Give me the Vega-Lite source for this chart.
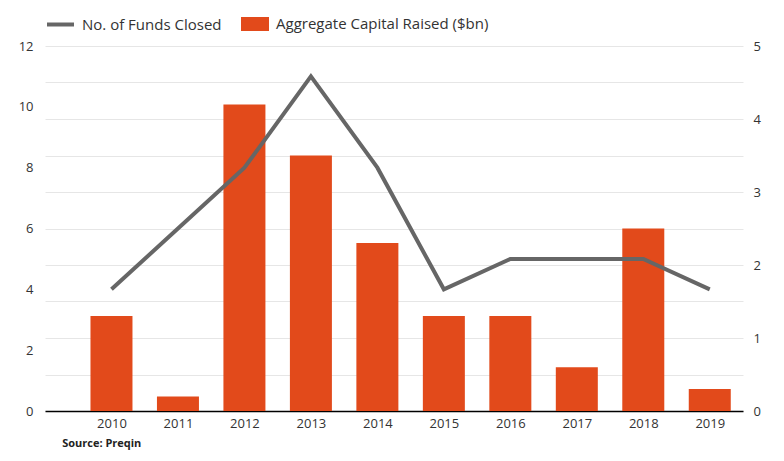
{
  "$schema": "https://vega.github.io/schema/vega-lite/v6.json",
  "width": 698,
  "height": 365,
  "autosize": "none",
  "padding": {"left": 45, "top": 46, "right": 41, "bottom": 50},
  "background": "white",
  "config": {
    "view": {"stroke": null},
    "font": "Open Sans",
    "axis": {"labelFont": "Open Sans", "labelFontSize": 13, "labelColor": "#333333", "gridColor": "#e6e6e6", "gridWidth": 1, "ticks": false, "domain": false, "title": null}
  },
  "title": {"text": "Source: Preqin", "orient": "bottom", "anchor": "start", "dx": 44, "offset": 8, "fontSize": 11, "fontWeight": "bold", "color": "#222222", "font": "Open Sans"},
  "data": {"values": [
    {"year": 2010, "funds": 4, "capital": 1.3},
    {"year": 2011, "funds": 6, "capital": 0.2},
    {"year": 2012, "funds": 8, "capital": 4.2},
    {"year": 2013, "funds": 11, "capital": 3.5},
    {"year": 2014, "funds": 8, "capital": 2.3},
    {"year": 2015, "funds": 4, "capital": 1.3},
    {"year": 2016, "funds": 5, "capital": 1.3},
    {"year": 2017, "funds": 5, "capital": 0.6},
    {"year": 2018, "funds": 5, "capital": 2.5},
    {"year": 2019, "funds": 4, "capital": 0.3}
  ]},
  "encoding": {
    "x": {"field": "year", "type": "quantitative", "scale": {"domain": [2009, 2019.5], "nice": false, "zero": false, "padding": 0},
      "axis": {"values": [2010,2011,2012,2013,2014,2015,2016,2017,2018,2019], "format": "d", "grid": false, "domain": true, "domainColor": "#000000", "domainWidth": 1.5, "labelPadding": 6}}
  },
  "layer": [
    {
      "mark": {"type": "bar", "size": 42},
      "encoding": {
        "y": {"field": "capital", "type": "quantitative", "scale": {"domain": [0, 5], "nice": false},
          "axis": {"orient": "right", "values": [0,0.5,1,1.5,2,2.5,3,3.5,4,4.5,5], "labelExpr": "datum.value % 1 == 0 ? format(datum.value, 'd') : ''", "labelPadding": 10}},
        "fill": {"datum": "Aggregate Capital Raised ($bn)", "type": "nominal", "scale": {"range": ["#E24A1B"]},
          "legend": {"orient": "none", "legendX": 195, "legendY": -37, "title": null, "symbolType": "M-1,-0.5H1V0.5H-1Z", "symbolSize": 784, "labelFontSize": 15, "labelFont": "Open Sans", "labelColor": "#333333", "labelOffset": 6, "labelLimit": 400, "padding": 0}}
      }
    },
    {
      "mark": {"type": "line", "strokeWidth": 4},
      "encoding": {
        "y": {"field": "funds", "type": "quantitative", "scale": {"domain": [0, 12], "nice": false},
          "axis": {"orient": "left", "values": [0,1,2,3,4,5,6,7,8,9,10,11,12], "labelExpr": "datum.value % 2 == 0 ? datum.label : ''", "labelPadding": 12}},
        "stroke": {"datum": "No. of Funds Closed", "type": "nominal", "scale": {"range": ["#666666"]},
          "legend": {"orient": "none", "legendX": 0, "legendY": -37, "title": null, "symbolType": "stroke", "symbolSize": 729, "symbolStrokeWidth": 4, "labelFontSize": 15, "labelFont": "Open Sans", "labelColor": "#333333", "labelOffset": 6, "labelLimit": 400, "padding": 0}}
      }
    }
  ],
  "resolve": {"scale": {"y": "independent"}}
}
